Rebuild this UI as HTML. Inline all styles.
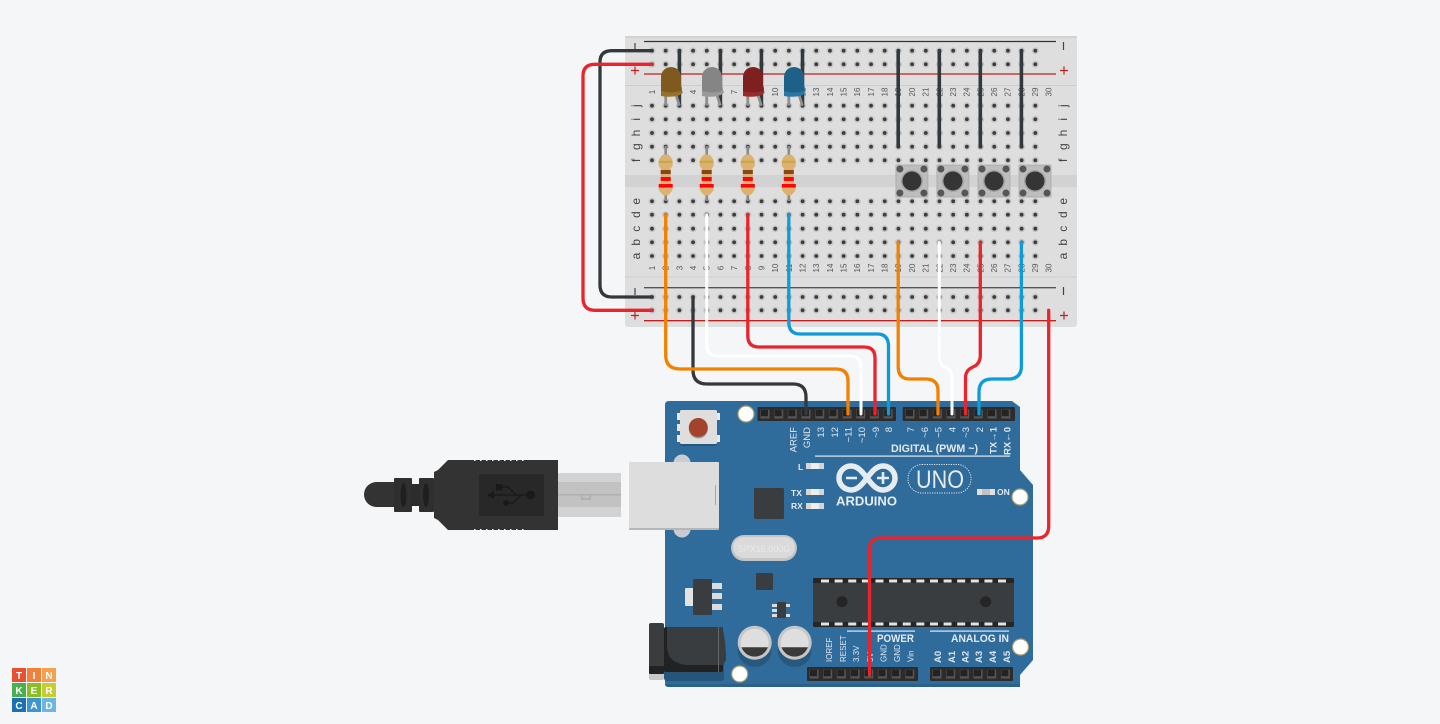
<!DOCTYPE html>
<html>
<head>
<meta charset="utf-8">
<style>
html,body{margin:0;padding:0;background:#f4f6f8;width:1440px;height:724px;overflow:hidden}
svg{display:block}
text{font-family:"Liberation Sans",sans-serif}
.n text{font-size:8px;fill:#555;text-anchor:middle}
.l text{font-size:12px;fill:#444;text-anchor:middle}
.a text{font-size:9.500px;fill:#e3e9ef;text-anchor:end}
.b text{font-size:8px;fill:#dfe6ec;text-anchor:start}
.c text{font-size:9.500px;font-weight:bold;fill:#dfe6ec;text-anchor:start}
.w{fill:none;stroke-width:3.300;stroke-linecap:round;stroke-linejoin:round}
.t text{font-size:10px;font-weight:bold;fill:#fff;text-anchor:middle}
</style>
</head>
<body>
<svg width="1440" height="724" viewBox="0 0 1440 724" xmlns="http://www.w3.org/2000/svg">
<defs>
<g id="row">
<line x1="652" x2="1049" y1="0" y2="0" stroke="#c6c6c6" stroke-width="7" stroke-linecap="round" stroke-dasharray="0.01 13.68"/>
<line x1="652" x2="1049" y1="0" y2="0" stroke="#3c3c3c" stroke-width="3.800" stroke-linecap="round" stroke-dasharray="0.01 13.68"/>
</g>
<g id="res">
<line x1="0" x2="0" y1="146" y2="201" stroke="#8a8a8a" stroke-width="2.600"/>
<path d="M-2.500 154.500 Q-7 158 -7 162 L-7 165 Q-7 167 -5 168 L-5 183 Q-7 184 -7 186 L-7 189 Q-7 191 -2 195.500 L2 195.500 Q7 191 7 189 L7 186 Q7 184 5 183 L5 168 Q7 167 7 165 L7 162 Q7 158 2.500 154.500Z" fill="#dbb274"/>
<rect x="-7" y="160.800" width="13.500" height="2.200" fill="#c9a93e"/>
<rect x="-5" y="170" width="10" height="4" fill="#8b4513"/>
<rect x="-5" y="177" width="10" height="4" fill="#f90808"/>
<rect x="-7" y="184" width="14" height="3.600" fill="#f90808"/>
</g>
<g id="btn">
<rect x="-16.500" y="-16.500" width="33" height="33" fill="#b4b4b4" rx="1"/>
<rect x="-15" y="-15" width="30" height="30" fill="#bdbdbd"/>
<circle r="11" fill="#a3a3a3"/>
<circle r="9.500" fill="#353535"/>
<circle cx="-12" cy="-12" r="3.500" fill="#565656"/>
<circle cx="12" cy="-12" r="3.500" fill="#565656"/>
<circle cx="-12" cy="12" r="3.500" fill="#565656"/>
<circle cx="12" cy="12" r="3.500" fill="#565656"/>
</g>
<path id="ledrim" d="M-10 0 L10 0 L11 3 Q11.500 8 9 10 Q0 13 -10 11 Z"/>
<path id="leddome" d="M-10 -8 A10 10 0 0 1 10 -8 L10 6 Q0 9 -10 6Z"/>
</defs>

<rect width="1440" height="724" fill="#f4f6f8"/>

<!-- breadboard -->
<rect x="625" y="36" width="452" height="291" rx="3" fill="#dedede"/>
<rect x="625" y="36" width="452" height="2" fill="#d2d2d2"/>
<rect x="625" y="85" width="452" height="1" fill="#cdcdcd"/>
<rect x="625" y="276.500" width="452" height="1" fill="#cdcdcd"/>
<rect x="625" y="175" width="452" height="12" fill="#d2d2d2"/>
<line x1="644" x2="1056" y1="41.500" y2="41.500" stroke="#333" stroke-width="1.300"/>
<line x1="644" x2="1056" y1="74" y2="74" stroke="#c21f1f" stroke-width="1.300"/>
<line x1="644" x2="1056" y1="287.700" y2="287.700" stroke="#555" stroke-width="1.300"/>
<line x1="644" x2="1056" y1="320.700" y2="320.700" stroke="#c21f1f" stroke-width="1.300"/>
<use href="#row" y="50.700"/><use href="#row" y="64.300"/>
<use href="#row" y="105.700"/><use href="#row" y="119.300"/><use href="#row" y="133"/><use href="#row" y="146.700"/><use href="#row" y="160.300"/>
<use href="#row" y="201.300"/><use href="#row" y="214.700"/><use href="#row" y="228.700"/><use href="#row" y="242.300"/><use href="#row" y="256"/>
<use href="#row" y="297"/><use href="#row" y="310.300"/>

<!-- rail signs -->
<g stroke-width="1.200" fill="none">
<path d="M635 43V50M1063.500 42V50M635 288V295M1063.500 287V295" stroke="#444"/>
<path d="M631 70.500H639M635 66.500V74.500M1060 70.500H1068M1064 66.500V74.500M631 315.500H639M635 311.500V319.500M1060 315.500H1068M1064 311.500V319.500" stroke="#c21f1f"/>
</g>

<!-- column numbers -->
<g class="n">
<text transform="translate(655,92) rotate(-90)">1</text><text transform="translate(668.700,92) rotate(-90)">2</text><text transform="translate(682.400,92) rotate(-90)">3</text><text transform="translate(696,92) rotate(-90)">4</text><text transform="translate(709.700,92) rotate(-90)">5</text><text transform="translate(723.400,92) rotate(-90)">6</text><text transform="translate(737.100,92) rotate(-90)">7</text><text transform="translate(750.800,92) rotate(-90)">8</text><text transform="translate(764.400,92) rotate(-90)">9</text><text transform="translate(778.100,92) rotate(-90)">10</text><text transform="translate(791.800,92) rotate(-90)">11</text><text transform="translate(805.500,92) rotate(-90)">12</text><text transform="translate(819.200,92) rotate(-90)">13</text><text transform="translate(832.800,92) rotate(-90)">14</text><text transform="translate(846.500,92) rotate(-90)">15</text><text transform="translate(860.200,92) rotate(-90)">16</text><text transform="translate(873.900,92) rotate(-90)">17</text><text transform="translate(887.600,92) rotate(-90)">18</text><text transform="translate(901.200,92) rotate(-90)">19</text><text transform="translate(914.900,92) rotate(-90)">20</text><text transform="translate(928.600,92) rotate(-90)">21</text><text transform="translate(942.300,92) rotate(-90)">22</text><text transform="translate(955.900,92) rotate(-90)">23</text><text transform="translate(969.600,92) rotate(-90)">24</text><text transform="translate(983.300,92) rotate(-90)">25</text><text transform="translate(997,92) rotate(-90)">26</text><text transform="translate(1010.700,92) rotate(-90)">27</text><text transform="translate(1024.400,92) rotate(-90)">28</text><text transform="translate(1038,92) rotate(-90)">29</text><text transform="translate(1051.700,92) rotate(-90)">30</text>
<text transform="translate(655,268) rotate(-90)">1</text><text transform="translate(668.700,268) rotate(-90)">2</text><text transform="translate(682.400,268) rotate(-90)">3</text><text transform="translate(696,268) rotate(-90)">4</text><text transform="translate(709.700,268) rotate(-90)">5</text><text transform="translate(723.400,268) rotate(-90)">6</text><text transform="translate(737.100,268) rotate(-90)">7</text><text transform="translate(750.800,268) rotate(-90)">8</text><text transform="translate(764.400,268) rotate(-90)">9</text><text transform="translate(778.100,268) rotate(-90)">10</text><text transform="translate(791.800,268) rotate(-90)">11</text><text transform="translate(805.500,268) rotate(-90)">12</text><text transform="translate(819.200,268) rotate(-90)">13</text><text transform="translate(832.800,268) rotate(-90)">14</text><text transform="translate(846.500,268) rotate(-90)">15</text><text transform="translate(860.200,268) rotate(-90)">16</text><text transform="translate(873.900,268) rotate(-90)">17</text><text transform="translate(887.600,268) rotate(-90)">18</text><text transform="translate(901.200,268) rotate(-90)">19</text><text transform="translate(914.900,268) rotate(-90)">20</text><text transform="translate(928.600,268) rotate(-90)">21</text><text transform="translate(942.300,268) rotate(-90)">22</text><text transform="translate(955.900,268) rotate(-90)">23</text><text transform="translate(969.600,268) rotate(-90)">24</text><text transform="translate(983.300,268) rotate(-90)">25</text><text transform="translate(997,268) rotate(-90)">26</text><text transform="translate(1010.700,268) rotate(-90)">27</text><text transform="translate(1024.400,268) rotate(-90)">28</text><text transform="translate(1038,268) rotate(-90)">29</text><text transform="translate(1051.700,268) rotate(-90)">30</text>
</g>
<!-- row letters -->
<g class="l">
<text transform="translate(640,105.700) rotate(-90)">j</text><text transform="translate(640,119.300) rotate(-90)">i</text><text transform="translate(640,133) rotate(-90)">h</text><text transform="translate(640,146.700) rotate(-90)">g</text><text transform="translate(640,160.300) rotate(-90)">f</text>
<text transform="translate(640,201.300) rotate(-90)">e</text><text transform="translate(640,214.700) rotate(-90)">d</text><text transform="translate(640,228.700) rotate(-90)">c</text><text transform="translate(640,242.300) rotate(-90)">b</text><text transform="translate(640,256) rotate(-90)">a</text>
<text transform="translate(1067,105.700) rotate(-90)">j</text><text transform="translate(1067,119.300) rotate(-90)">i</text><text transform="translate(1067,133) rotate(-90)">h</text><text transform="translate(1067,146.700) rotate(-90)">g</text><text transform="translate(1067,160.300) rotate(-90)">f</text>
<text transform="translate(1067,201.300) rotate(-90)">e</text><text transform="translate(1067,214.700) rotate(-90)">d</text><text transform="translate(1067,228.700) rotate(-90)">c</text><text transform="translate(1067,242.300) rotate(-90)">b</text><text transform="translate(1067,256) rotate(-90)">a</text>
</g>

<!-- black jumpers on breadboard -->
<g stroke="#33383c" stroke-width="3.600" stroke-linecap="round">
<line x1="679.400" x2="679.400" y1="50.700" y2="105.700"/>
<line x1="720.400" x2="720.400" y1="50.700" y2="105.700"/>
<line x1="761.400" x2="761.400" y1="50.700" y2="105.700"/>
<line x1="802.500" x2="802.500" y1="50.700" y2="105.700"/>
<line x1="898.200" x2="898.200" y1="50.700" y2="146.700"/>
<line x1="939.300" x2="939.300" y1="50.700" y2="146.700"/>
<line x1="980.300" x2="980.300" y1="50.700" y2="146.700"/>
<line x1="1021.400" x2="1021.400" y1="50.700" y2="146.700"/>
</g>

<!-- LEDs -->
<g stroke="#8f8f8f" stroke-width="2.800" fill="none">
<path d="M665.700 95V105.700M676 95L679.400 105.700M706.700 95V105.700M717 95L720.400 105.700M747.800 95V105.700M758 95L761.400 105.700M788.800 95V105.700M799 95L802.500 105.700"/>
</g>
<g transform="translate(671,85)"><use href="#ledrim" fill="#98702a"/><use href="#leddome" fill="#7f5a1e"/></g>
<g transform="translate(712,85)"><use href="#ledrim" fill="#9a9a9a"/><use href="#leddome" fill="#858585"/></g>
<g transform="translate(753,85)"><use href="#ledrim" fill="#982c2c"/><use href="#leddome" fill="#7f2020"/></g>
<g transform="translate(794,85)"><use href="#ledrim" fill="#2a76a4"/><use href="#leddome" fill="#1e6188"/></g>

<!-- resistors -->
<use href="#res" x="665.700"/><use href="#res" x="706.700"/><use href="#res" x="747.800"/><use href="#res" x="788.800"/>

<!-- buttons -->
<use href="#btn" x="911.900" y="181"/><use href="#btn" x="952.900" y="181"/><use href="#btn" x="994" y="181"/><use href="#btn" x="1035" y="181"/>

<!-- arduino board -->
<path d="M665 405Q665 401 669 401L1012 401L1020 407L1020 470L1033 485L1033 660L1020 675L1020 684Q1020 687 1017 687L669 687Q665 687 665 683Z" fill="#2f6c9c"/>
<path d="M665 684L1020 684L1020 687L669 687Q665 687 665 684Z" fill="#29608c"/>

<!-- mounting holes -->
<g fill="#fff" stroke="#a8a06a" stroke-width="1.200">
<circle cx="746" cy="414" r="8"/><circle cx="1020" cy="497" r="8"/><circle cx="1020.500" cy="647" r="8"/><circle cx="739.700" cy="674" r="8"/>
</g>

<!-- headers -->
<rect x="757.500" y="407" width="138.500" height="14" rx="1" fill="#2c2c2c"/>
<rect x="902.700" y="407" width="112.300" height="14" rx="1" fill="#2c2c2c"/>
<rect x="807" y="667" width="111" height="14" rx="1" fill="#2c2c2c"/>
<rect x="930" y="667" width="83" height="14" rx="1" fill="#2c2c2c"/>
<g fill="none" stroke-width="9">
<path d="M760.500 414H893M905.500 414H1012.500M809.500 674H915M932.500 674H1011" stroke="#565656" stroke-dasharray="9 4.680"/>
</g>
<g fill="none" stroke-width="6.500">
<path d="M761 413H893M906 413H1012.500M810 673H915M933 673H1011" stroke="#232323" stroke-dasharray="7 6.680"/>
</g>

<!-- reset button -->
<rect x="677" y="413" width="4" height="7" fill="#e8e8e8"/><rect x="677" y="424" width="4" height="7" fill="#e8e8e8"/><rect x="677" y="435" width="4" height="7" fill="#e8e8e8"/>
<rect x="716" y="413" width="4" height="7" fill="#e8e8e8"/><rect x="716" y="435" width="4" height="7" fill="#e8e8e8"/>
<rect x="680" y="410" width="37" height="36" rx="1.500" fill="#24567e"/>
<rect x="680" y="410" width="37" height="34" rx="1.500" fill="#dedede"/>
<circle cx="698.300" cy="429" r="9.500" fill="#9a9a9a"/>
<circle cx="698.300" cy="427.500" r="9.500" fill="#a3432b"/>

<!-- USB socket -->
<circle cx="682" cy="463" r="8.500" fill="#c9ccd0"/>
<circle cx="682" cy="529" r="8.500" fill="#c9ccd0"/>
<rect x="629" y="462" width="90" height="68" rx="1" fill="#b6b6b6"/>
<rect x="629" y="462" width="90" height="66" rx="1" fill="#dddddd"/>
<rect x="715" y="485" width="1" height="20" fill="#a8a8a8"/>

<!-- USB plug -->
<rect x="558" y="473" width="63" height="44" rx="1" fill="#d2d2d2"/>
<rect x="558" y="482" width="63" height="25" fill="#c2c2c2"/>
<rect x="558" y="494" width="63" height="1.500" fill="#b0b0b0"/>
<path d="M581 495h2v3h6v-3h2v5h-10z" fill="#b0b0b0"/>
<path d="M558 460L448 460L438 470L434 472L434 518L438 520L448 530L558 530Z" fill="#333"/>
<path d="M474 460.500H526M474 529.500H526" stroke="#f4f6f8" stroke-width="1" stroke-dasharray="1.500 4.500"/>
<rect x="479" y="474" width="65" height="42" fill="#282828"/>
<rect x="394" y="478" width="18" height="34" rx="1" fill="#2f2f2f"/>
<rect x="419" y="478" width="15" height="34" rx="1" fill="#2f2f2f"/>
<rect x="411" y="484" width="9" height="22" fill="#2c2c2c"/>
<ellipse cx="403.500" cy="495" rx="3" ry="12" fill="#1f1f1f"/>
<ellipse cx="426" cy="495" rx="3" ry="12" fill="#1f1f1f"/>
<path d="M394 482H376.500A12.500 12.500 0 0 0 376.500 507H394Z" fill="#333"/>
<g stroke="#1a1a1a" stroke-width="1.500" fill="none">
<path d="M490 495H530"/>
<path d="M499 487H508L516 495"/>
<path d="M506 503H513L521 495"/>
</g>
<circle cx="530.500" cy="495" r="4.500" fill="#1a1a1a"/>
<circle cx="506" cy="503" r="3" fill="#1a1a1a"/>
<rect x="496" y="484" width="6.500" height="6.500" fill="#1a1a1a"/>
<path d="M487 495L494 491V499Z" fill="#1a1a1a"/>

<!-- ICSP chip and small parts -->
<rect x="754" y="488" width="30" height="31" rx="1.500" fill="#3a3d40"/>
<rect x="756" y="573" width="17" height="17" rx="1" fill="#3a3d40"/>

<!-- crystal -->
<rect x="731" y="535" width="66" height="26" rx="13" fill="#c4c4c4"/>
<rect x="733" y="537" width="62" height="21" rx="10.500" fill="#dadada"/>
<text x="764" y="552" font-size="9" fill="#eaeaea" text-anchor="middle">SPX16.000G</text>

<!-- regulator -->
<rect x="685" y="588" width="9" height="18" rx="1" fill="#e4e4e4"/>
<rect x="712" y="583" width="10" height="6" fill="#dcdcdc"/>
<rect x="712" y="593" width="10" height="6" fill="#dcdcdc"/>
<rect x="712" y="604" width="10" height="6" fill="#dcdcdc"/>
<rect x="693" y="579" width="19" height="36" rx="1" fill="#3a3d40"/>
<!-- small transistor -->
<rect x="772" y="604" width="6" height="3" fill="#dcdcdc"/><rect x="772" y="609" width="6" height="3" fill="#dcdcdc"/><rect x="772" y="614" width="6" height="3" fill="#dcdcdc"/>
<rect x="785" y="604" width="5" height="3" fill="#dcdcdc"/><rect x="785" y="614" width="5" height="3" fill="#dcdcdc"/>
<rect x="777" y="602" width="9" height="16" rx="1" fill="#3a3d40"/>

<!-- jack -->
<rect x="664" y="650" width="60" height="31" rx="3" fill="#255578"/>
<rect x="649" y="660" width="15" height="20" rx="2" fill="#c8c8c8"/>
<rect x="664" y="627" width="59" height="45" rx="2" fill="#222"/>
<path d="M667 627H722Q726 640 726 660L723 665H690Q667 665 667 645Z" fill="#3a3d40"/>
<rect x="718" y="627" width="1" height="45" fill="#666"/>
<rect x="649" y="623" width="15" height="51" rx="2" fill="#3a3d40"/>
<rect x="649" y="666" width="15" height="8" rx="1" fill="#222"/>

<!-- capacitors -->
<circle cx="754.700" cy="650" r="17" fill="#28587e"/>
<circle cx="794.700" cy="650" r="17" fill="#28587e"/>
<circle cx="754.700" cy="642.700" r="17" fill="#c6c6c6"/>
<circle cx="754.700" cy="642.700" r="14" fill="#dedede"/>
<path d="M741.500 647.300H767.900A14 14 0 0 1 741.500 647.300Z" fill="#3a3a3a"/>
<circle cx="794.700" cy="642.700" r="17" fill="#c6c6c6"/>
<circle cx="794.700" cy="642.700" r="14" fill="#dedede"/>
<path d="M781.500 647.300H807.900A14 14 0 0 1 781.500 647.300Z" fill="#3a3a3a"/>

<!-- main IC -->
<rect x="813" y="578" width="201" height="49" rx="1.500" fill="#262626"/>
<rect x="813" y="583" width="201" height="39" fill="#3a3d40"/>
<g stroke="#e4e4e4" stroke-width="3" fill="none">
<path d="M821 581H1006" stroke-dasharray="8 5.620"/>
<path d="M821 624H1006" stroke-dasharray="8 5.620"/>
</g>
<circle cx="842" cy="601.700" r="5.500" fill="#252525"/>
<circle cx="985.700" cy="601.700" r="5.500" fill="#252525"/>

<!-- LEDs on board -->
<rect x="806" y="463" width="18" height="6" fill="#d6d6d6"/><rect x="811" y="463" width="8" height="6" fill="#eee"/>
<rect x="806" y="489" width="18" height="6" fill="#d6d6d6"/><rect x="811" y="489" width="8" height="6" fill="#eee"/>
<rect x="806" y="503" width="18" height="6" fill="#d6d6d6"/><rect x="811" y="503" width="8" height="6" fill="#eee"/>
<rect x="977" y="489" width="18" height="6" fill="#e0e0e0"/><rect x="982" y="489" width="8" height="6" fill="#c2c2c2"/>
<g font-size="8.500" font-weight="bold" fill="#e3e9ef">
<text x="798" y="470">L</text>
<text x="791" y="496">TX</text>
<text x="791" y="509">RX</text>
<text x="997" y="495">ON</text>
</g>

<!-- top pin labels -->
<g class="a">
<text transform="translate(796.500,427) rotate(-90)">AREF</text>
<text transform="translate(810,427) rotate(-90)">GND</text>
<text transform="translate(824,427) rotate(-90)">13</text>
<text transform="translate(838,427) rotate(-90)">12</text>
<text transform="translate(851.500,427) rotate(-90)">~11</text>
<text transform="translate(865,427) rotate(-90)">~10</text>
<text transform="translate(879,427) rotate(-90)">~9</text>
<text transform="translate(892,427) rotate(-90)">8</text>
<text transform="translate(914,427) rotate(-90)">7</text>
<text transform="translate(928,427) rotate(-90)">~6</text>
<text transform="translate(941.500,427) rotate(-90)">~5</text>
<text transform="translate(955.500,427) rotate(-90)">4</text>
<text transform="translate(969,427) rotate(-90)">~3</text>
<text transform="translate(983,427) rotate(-90)">2</text>
<text transform="translate(996.500,427) rotate(-90)" font-weight="bold" font-size="9">TX→1</text>
<text transform="translate(1010.500,427) rotate(-90)" font-weight="bold" font-size="9">RX←0</text>
</g>
<text x="891" y="452" font-size="11" font-weight="bold" fill="#e3e9ef" textLength="87" lengthAdjust="spacingAndGlyphs">DIGITAL (PWM ~)</text>
<rect x="815" y="455.500" width="195" height="1.200" fill="#e3e9ef"/>

<!-- logo -->
<path d="M867 478C861 470 857 466 851 466A12 12 0 0 0 851 490C857 490 861 486 867 478C873 470 877 466 883 466A12 12 0 0 1 883 490C877 490 873 486 867 478Z" fill="none" stroke="#e6ecf1" stroke-width="5.500"/>
<g stroke="#e6ecf1" stroke-width="2.600">
<path d="M846 478H857M877 478H889M883 472V484"/>
</g>
<text x="836" y="505.700" font-size="12.500" font-weight="bold" fill="#e6ecf1" textLength="61" lengthAdjust="spacingAndGlyphs">ARDUINO</text>
<rect x="908" y="464.500" width="63" height="28.500" rx="14" fill="none" stroke="#dfe6ec" stroke-width="1" stroke-dasharray="1.200 1.200"/>
<text x="940" y="488" font-size="25" fill="#e6ecf1" text-anchor="middle" textLength="48" lengthAdjust="spacingAndGlyphs">UNO</text>

<!-- bottom labels -->
<rect x="847" y="630.500" width="68" height="1.200" fill="#e3e9ef"/>
<rect x="930" y="630.500" width="79" height="1.200" fill="#e3e9ef"/>
<text x="877" y="642" font-size="11" font-weight="bold" fill="#e3e9ef" textLength="37" lengthAdjust="spacingAndGlyphs">POWER</text>
<text x="951" y="642" font-size="11" font-weight="bold" fill="#e3e9ef" textLength="58" lengthAdjust="spacingAndGlyphs">ANALOG IN</text>
<g class="b">
<text transform="translate(832,662) rotate(-90)">IOREF</text>
<text transform="translate(846,662) rotate(-90)">RESET</text>
<text transform="translate(859,662) rotate(-90)">3.3V</text>
<text transform="translate(873,662) rotate(-90)">5V</text>
<text transform="translate(886.500,662) rotate(-90)">GND</text>
<text transform="translate(900,662) rotate(-90)">GND</text>
<text transform="translate(913.500,662) rotate(-90)">Vin</text>
</g>
<g class="c">
<text transform="translate(941,663) rotate(-90)">A0</text>
<text transform="translate(955,663) rotate(-90)">A1</text>
<text transform="translate(968.500,663) rotate(-90)">A2</text>
<text transform="translate(982,663) rotate(-90)">A3</text>
<text transform="translate(996,663) rotate(-90)">A4</text>
<text transform="translate(1010,663) rotate(-90)">A5</text>
</g>

<!-- wires -->
<g class="w">
<path stroke="#33383c" d="M652 50.700H612Q600 50.700 600 62V285Q600 297 612 297H652"/>
<path stroke="#e9252b" d="M652 64.300H595Q583 64.300 583 76V298Q583 310.300 595 310.300H652"/>
<path stroke="#33383c" d="M693 297V370Q693 384 707 384H793Q806 384 806 397V414"/>
<path stroke="#f48000" d="M665.700 214.700V355Q665.700 369 680 369H836Q848 369 848 381V414"/>
<path stroke="#ffffff" stroke-width="3" d="M706.700 214.700V344Q706.700 356 718 356H850Q861 356 861 368V414"/>
<path stroke="#e9252b" d="M747.800 214.700V336Q747.800 347 759 347H864Q875 347 875 358V414"/>
<path stroke="#0f9bd7" d="M788.800 214.700V322Q788.800 334 800 334H877Q888.500 334 888.500 346V414"/>
<path stroke="#f48000" d="M898.200 242.300V367Q898.200 379 910 379H926Q938 379 938 391V414"/>
<path stroke="#ffffff" stroke-width="3" d="M939.300 242.300V356Q939.300 365 945 367Q952 370 952 378V414"/>
<path stroke="#e9252b" d="M980.300 242.300V355Q980.300 364 973 367Q965.500 370 965.500 378V414"/>
<path stroke="#0f9bd7" d="M1021.400 242.300V366Q1021.400 379 1008 379H992Q979 379 979 392V414"/>
<path stroke="#e9252b" d="M1048.700 310.300V526Q1048.700 538 1037 538H881Q869.500 538 869.500 550V675"/>
</g>

<!-- Tinkercad logo -->
<rect x="12" y="668" width="14" height="14" fill="#e9502f"/><rect x="27" y="668" width="14" height="14" fill="#f0803a"/><rect x="42" y="668" width="14" height="14" fill="#f5a04e"/>
<rect x="12" y="683" width="14" height="14" fill="#4bae4f"/><rect x="27" y="683" width="14" height="14" fill="#8abf24"/><rect x="42" y="683" width="14" height="14" fill="#c7cc33"/>
<rect x="12" y="698" width="14" height="14" fill="#1b6fb5"/><rect x="27" y="698" width="14" height="14" fill="#3d95d2"/><rect x="42" y="698" width="14" height="14" fill="#6db6e2"/>
<g class="t">
<text x="19" y="679">T</text><text x="34" y="679">I</text><text x="49" y="679">N</text>
<text x="19" y="694">K</text><text x="34" y="694">E</text><text x="49" y="694">R</text>
<text x="19" y="709">C</text><text x="34" y="709">A</text><text x="49" y="709">D</text>
</g>
</svg>
</body>
</html>
